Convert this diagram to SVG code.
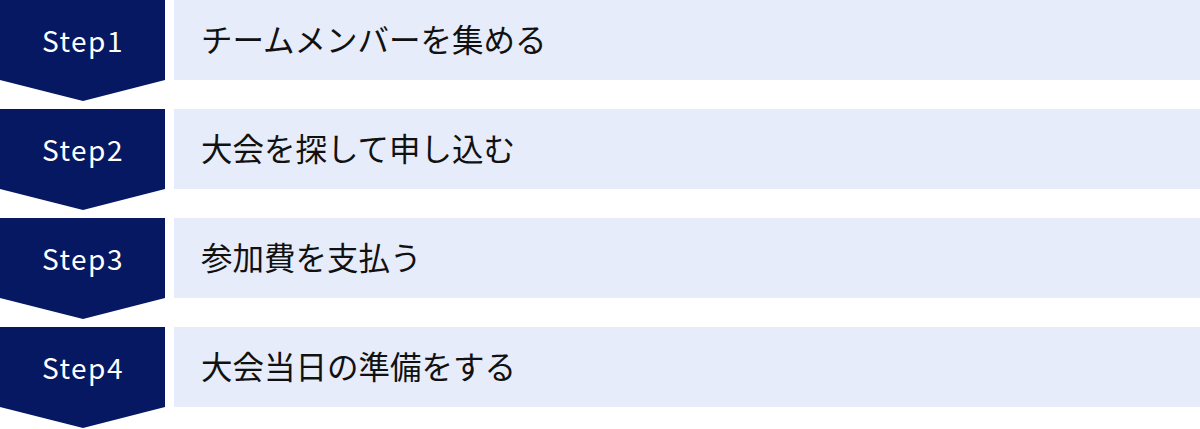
<svg xmlns="http://www.w3.org/2000/svg" width="1200" height="429" viewBox="0 0 1200 429">
<style>
.chev{fill:#061862}
.box{fill:#E6ECF9}
.step{font-family:"Noto Sans CJK JP","Noto Sans",sans-serif;font-size:28px;fill:#ffffff;text-anchor:middle;letter-spacing:1.5px}
.lbl{font-family:"Noto Sans CJK JP",sans-serif;font-size:31.5px;fill:#111111}
</style>
<rect width="1200" height="429" fill="#ffffff"/>
<g id="step1">
<polygon class="chev" points="0,0 165,0 165,80 83,101 0,80"/>
<rect class="box" x="174" y="0" width="1026" height="80"/>
<text class="step" x="83" y="52">Step1</text>
<text class="lbl" x="201" y="52">チームメンバーを集める</text>
</g>
<g id="step2">
<polygon class="chev" points="0,109 165,109 165,189 83,210 0,189"/>
<rect class="box" x="174" y="109" width="1026" height="80"/>
<text class="step" x="83" y="161">Step2</text>
<text class="lbl" x="201" y="161">大会を探して申し込む</text>
</g>
<g id="step3">
<polygon class="chev" points="0,218 165,218 165,298 83,319 0,298"/>
<rect class="box" x="174" y="218" width="1026" height="80"/>
<text class="step" x="83" y="270">Step3</text>
<text class="lbl" x="201" y="270">参加費を支払う</text>
</g>
<g id="step4">
<polygon class="chev" points="0,327 165,327 165,407 83,428 0,407"/>
<rect class="box" x="174" y="327" width="1026" height="80"/>
<text class="step" x="83" y="379">Step4</text>
<text class="lbl" x="201" y="379">大会当日の準備をする</text>
</g>
<g id="connectors"></g>
</svg>
